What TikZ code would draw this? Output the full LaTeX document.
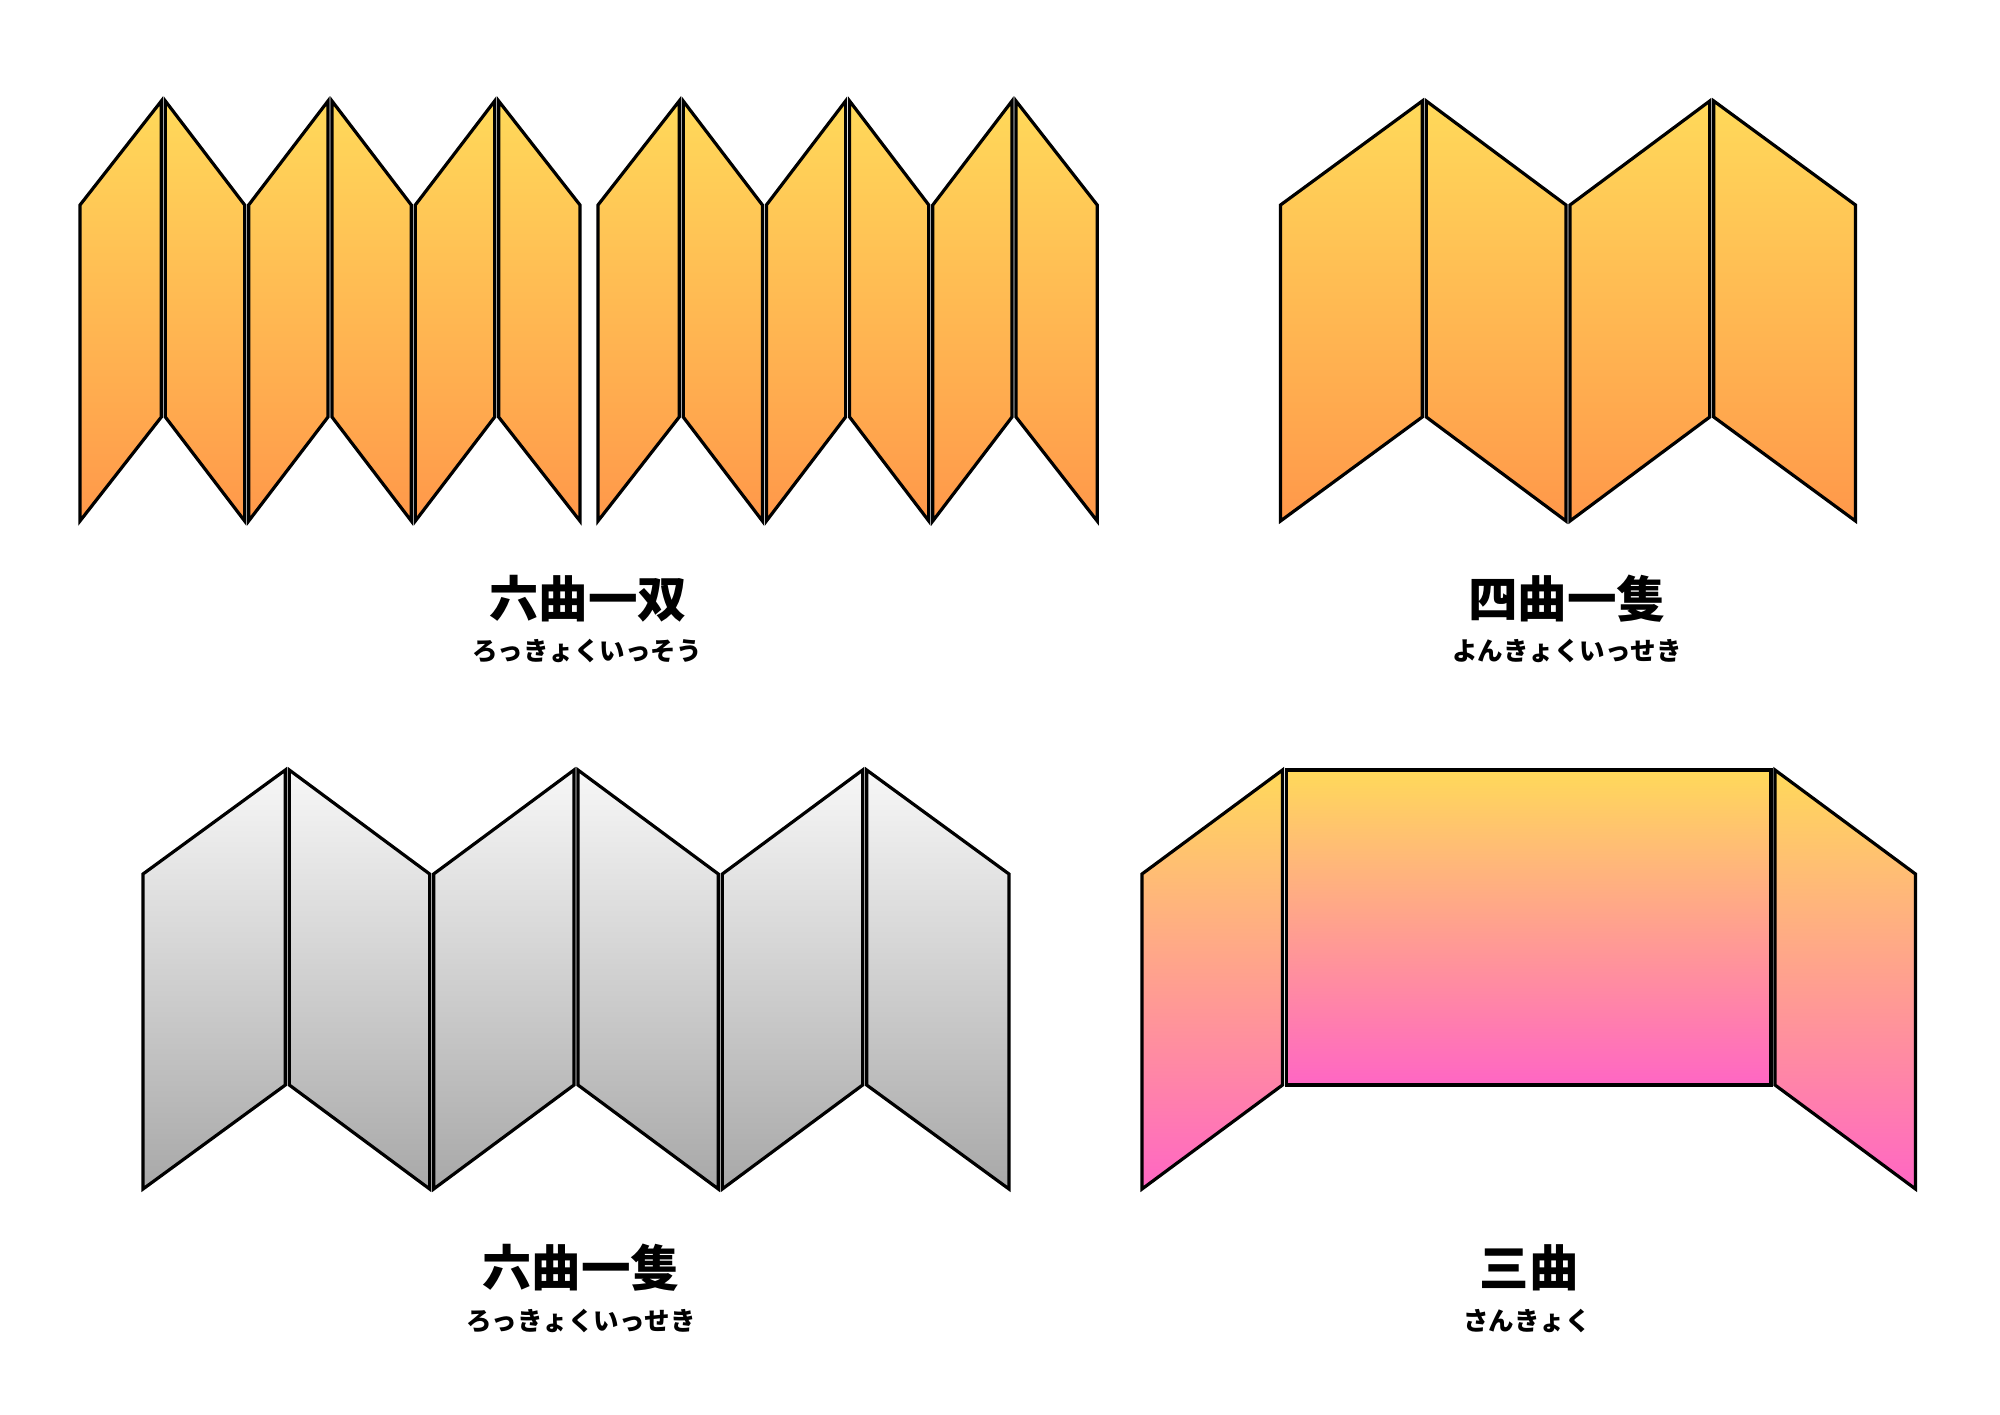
\documentclass[tikz,border=0pt]{standalone}
\usepackage{fontspec}
\newfontfamily\cjk{Noto Sans CJK JP}
\definecolor{ylw}{HTML}{FFD95A}
\definecolor{org}{HTML}{FF984A}
\definecolor{pnk}{HTML}{FF66C4}
\definecolor{gtop}{HTML}{F7F7F7}
\definecolor{gbot}{HTML}{A8A8A8}
\tikzset{
  edge/.style={draw=black, line width=3.2pt, line join=miter},
  orangepanel/.style={edge, top color=ylw, bottom color=org},
  graypanel/.style={edge, top color=gtop, bottom color=gbot},
  pinkpanel/.style={edge, top color=ylw, bottom color=pnk},
  titletext/.style={inner sep=0pt, font=\cjk\bfseries\fontsize{49.5}{56}\selectfont},
  kanatext/.style={inner sep=0pt, font=\cjk\bfseries\fontsize{25.5}{30}\selectfont},
}
% #1 x0, #2 panel width, #3 last index, #4 valley top y, #5 peak top y, #6 height, #7 style
\newcommand\foldscreen[7]{%
  \foreach \i in {0,...,#3}{%
    \pgfmathsetmacro\xa{#1+#2*\i+(\i>0?2.0:0)}%
    \pgfmathsetmacro\xb{#1+#2*(\i+1)-(\i<#3?2.0:0)}%
    \pgfmathsetmacro\ya{mod(\i,2)==0?#4:#5}%
    \pgfmathsetmacro\yb{mod(\i,2)==0?#5:#4}%
    \path[#7] (\xa,\ya) -- (\xb,\yb) -- (\xb,\yb+#6) -- (\xa,\ya+#6) -- cycle;
  }}
\begin{document}
\begin{tikzpicture}[x=1pt,y=-1pt]
\useasboundingbox (0,0) rectangle (2000,1414);
\fill[white] (0,0) rectangle (2000,1414);

% 六曲一双
\foldscreen{80}{83.33}{5}{205}{101}{316}{orangepanel}
\foldscreen{598}{83.2}{5}{205}{101}{316}{orangepanel}
% 四曲一隻
\foldscreen{1280.5}{143.75}{3}{205}{101}{316}{orangepanel}
% 六曲一隻
\foldscreen{143}{144.33}{5}{874}{770}{315}{graypanel}
% 三曲
\path[pinkpanel] (1142,874) -- (1282.5,770) -- (1282.5,1085) -- (1142,1189) -- cycle;
\path[pinkpanel] (1286.5,770) -- (1771,770) -- (1771,1085) -- (1286.5,1085) -- cycle;
\path[pinkpanel] (1775,770) -- (1915.5,874) -- (1915.5,1189) -- (1775,1085) -- cycle;

\node[titletext] (t1) at (588,599) {六曲一双};
\node[kanatext]  (k1) at (587,651) {ろっきょくいっそう};
\node[titletext] (t2) at (1567,599) {四曲一隻};
\node[kanatext]  (k2) at (1567,651) {よんきょくいっせき};
\node[titletext] (t3) at (581,1268) {六曲一隻};
\node[kanatext]  (k3) at (581,1321) {ろっきょくいっせき};
\node[titletext] (t4) at (1529,1268) {三曲};
\node[kanatext]  (k4) at (1527,1321) {さんきょく};
\end{tikzpicture}
\end{document}
